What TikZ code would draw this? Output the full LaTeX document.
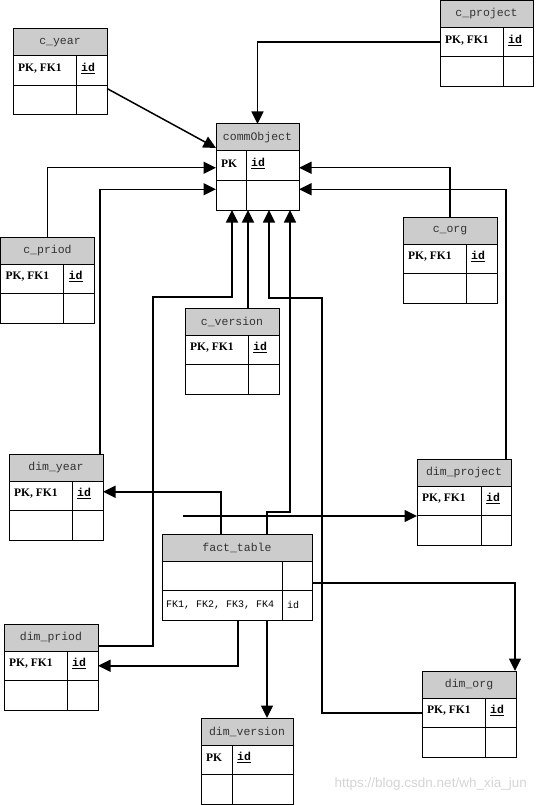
\documentclass[tikz,border=0pt]{standalone}
\usepackage{fontspec}
\setmainfont{Liberation Serif}
\newfontfamily\monof{Liberation Mono}
\newfontfamily\sansf{Liberation Sans}
\usetikzlibrary{arrows.meta,calc,fit}
\definecolor{hdrgray}{HTML}{CCCCCC}
\definecolor{hdrtext}{HTML}{333333}
\definecolor{wmgray}{HTML}{D4D4D4}
\tikzset{
  hdr/.style={draw=black, fill=hdrgray, line width=1pt, outer sep=0pt, minimum height=27pt, inner sep=0pt, font=\monof\fontsize{11.5}{12}\selectfont, text=hdrtext},
  cell/.style={draw=black, fill=white, line width=1pt, outer sep=0pt, minimum height=29.5pt, inner sep=0pt},
  conn/.style={line width=1.5pt, -{Triangle[length=12.5pt,width=12pt]}},
}
\newcommand\keyt{\bfseries\fontsize{11.5}{12}\selectfont}
\newcommand\idt{\monof\bfseries\fontsize{11.5}{12}\selectfont}
\newcommand\plaint{\monof\fontsize{10}{11}\selectfont}
\newcommand\erdtab[8]{%
  \node[hdr, minimum width=#4pt, anchor=north west] (#1-h) at (#2,#3) {#6};
  \node[cell, minimum width=#5pt, anchor=north west] (#1-a) at (#1-h.south west) {};
  \node[cell, minimum width={#4pt-#5pt}, anchor=north west] (#1-b) at (#1-a.north east) {};
  \node[cell, minimum width=#5pt, anchor=north west] (#1-c) at (#1-a.south west) {};
  \node[cell, minimum width={#4pt-#5pt}, anchor=north west] (#1-d) at (#1-c.north east) {};
  \node[fit=(#1-h)(#1-d), inner sep=0pt, outer sep=0pt] (#1) {};
  \node[anchor=west, inner sep=0pt] (#1-at) at ($(#1-a.west)+(5,-2)$) {#7};
  \node[anchor=west, inner sep=0pt] (#1-bt) at ($(#1-b.west)+(5,-2)$) {#8};
}
\begin{document}
\begin{tikzpicture}[x=1pt,y=-1pt]
\useasboundingbox (0,0) rectangle (535,805);
% tables
\erdtab{cyear}{13}{29}{94}{63}{c\_year}{\keyt PK, FK1}{\idt\underline{id}}
\erdtab{cproject}{440}{0.5}{93}{63}{c\_project}{\keyt PK, FK1}{\idt\underline{id}}
\erdtab{commObject}{216}{124}{83}{30}{commObject}{\keyt PK}{\idt\underline{id}}
\erdtab{cpriod}{0.5}{237}{94}{63}{c\_priod}{\keyt PK, FK1}{\idt\underline{id}}
\erdtab{corg}{403}{217}{94}{63}{c\_org}{\keyt PK, FK1}{\idt\underline{id}}
\erdtab{cversion}{185}{308}{94}{63}{c\_version}{\keyt PK, FK1}{\idt\underline{id}}
\erdtab{dimyear}{9}{454}{94}{63}{dim\_year}{\keyt PK, FK1}{\idt\underline{id}}
\erdtab{dimproject}{417}{459}{94}{64}{dim\_project}{\keyt PK, FK1}{\idt\underline{id}}
\erdtab{fact}{162}{534}{150}{120}{fact\_table}{}{}
\node[anchor=west, inner sep=0pt] (fact-ct) at ($(fact-c.west)+(4,0)$) {\plaint FK1, FK2, FK3, FK4};
\node[anchor=west, inner sep=0pt] (fact-dt) at ($(fact-d.west)+(5,0)$) {\plaint id};
\erdtab{dimpriod}{4}{624}{94}{63}{dim\_priod}{\keyt PK, FK1}{\idt\underline{id}}
\erdtab{dimversion}{201}{718}{92}{31}{dim\_version}{\keyt PK}{\idt\underline{id}}
\erdtab{dimorg}{422}{671}{94}{63}{dim\_org}{\keyt PK, FK1}{\idt\underline{id}}
% connectors to commObject
\draw[conn] ($(cyear-d.north east)+(0,3)$) -- ($(commObject-h.south west)+(0,-3)$);
\draw[conn] (cproject-a.west) -| (commObject-h.north);
\draw[conn] (cpriod-h.north) |- ($(commObject-a.west)+(0,2)$);
\draw[conn] ($(dimyear-h.north east)+(-3,0)$) |- ($(commObject-c.west)+(0,-6)$);
\draw[conn] (corg-h.north) |- ($(commObject-b.east)+(0,2)$);
\draw[conn] ($(dimproject-h.north east)+(-5,0)$) |- ($(commObject-d.east)+(0,-6)$);
\draw[conn] ($(dimpriod-h.south east)+(0,-5)$) -| (153,297) -| ($(commObject-c.south west)+(16,0)$);
\draw[conn] (cversion-a.north east |- cversion-h.north) -- (cversion-a.north east |- commObject-c.south);
\draw[conn] (dimorg-a.west) -| (322,298) -| ($(commObject-d.south west)+(23,0)$);
\draw[conn] ($(fact-h.north west)+(105,0)$) |- (290,512) -- ($(commObject-d.south west)+(44,0)$);
% connectors from fact_table
\draw[conn] ($(fact-h.north west)+(59,0)$) |- ($(dimyear-b.east)+(0,-4)$);
\coordinate (dpfree) at (183,516);
\draw[conn] (dpfree) -- (dpfree -| dimproject-c.west);
\draw[conn] ($(fact.east)+(0,6)$) -| ($(dimorg-h.north east)+(-1,0)$);
\draw[conn] ($(fact-c.south west)+(76,0)$) |- (dimpriod-b.east);
\draw[conn] ($(fact-c.south west)+(105,0)$) coordinate (fv) -- (fv |- dimversion-h.north);
% watermark
\node[anchor=east, inner sep=0pt, font=\sansf\fontsize{13.5}{15}\selectfont, text=wmgray] (wmark) at (527,784) {https://blog.csdn.net/wh\_xia\_jun};
\end{tikzpicture}
\end{document}
